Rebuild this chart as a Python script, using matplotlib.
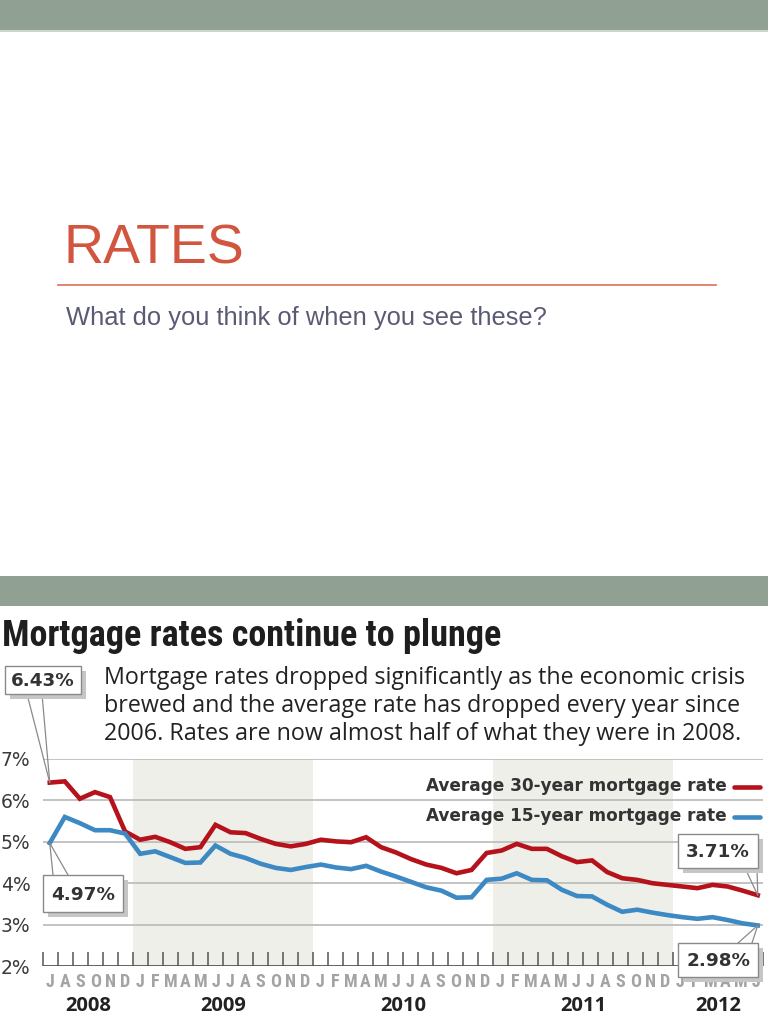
import matplotlib

matplotlib.use("Agg")
import matplotlib.pyplot as plt
import numpy as np
from matplotlib import font_manager
from matplotlib.patches import Rectangle

# monthly averages, Jul 2008 .. Jun 2012
RATE_30 = [6.43, 6.46, 6.04, 6.20, 6.08, 5.25, 5.05, 5.12, 4.99, 4.83, 4.87, 5.41,
           5.23, 5.21, 5.07, 4.95, 4.89, 4.95, 5.05, 5.01, 4.99, 5.11, 4.87, 4.74,
           4.58, 4.45, 4.37, 4.24, 4.32, 4.73, 4.79, 4.95, 4.83, 4.83, 4.65, 4.51,
           4.55, 4.27, 4.12, 4.08, 4.00, 3.96, 3.92, 3.88, 3.96, 3.92, 3.82, 3.71]
RATE_15 = [4.97, 5.60, 5.45, 5.28, 5.28, 5.20, 4.71, 4.77, 4.63, 4.49, 4.50, 4.91,
           4.71, 4.61, 4.47, 4.37, 4.32, 4.39, 4.45, 4.38, 4.34, 4.42, 4.28, 4.16,
           4.03, 3.90, 3.82, 3.65, 3.66, 4.08, 4.11, 4.24, 4.08, 4.07, 3.84, 3.69,
           3.68, 3.48, 3.31, 3.36, 3.29, 3.23, 3.18, 3.14, 3.18, 3.11, 3.03, 2.98]
MONTH_LETTERS = list("JASOND") + list("JFMAMJJASOND") * 3 + list("JFMAMJ")
YEARS = ["2008", "2009", "2010", "2011", "2012"]
YEAR_SPANS = [(0, 6), (6, 18), (18, 30), (30, 42), (42, 48)]
SHADED_YEARS = ["2009", "2011"]
Y_TICKS = [2, 3, 4, 5, 6, 7]
Y_LABELS = ["2%", "3%", "4%", "5%", "6%", "7%"]
BODY_LINES = ["Mortgage rates dropped significantly as the economic crisis",
              "brewed and the average rate has dropped every year since",
              "2006. Rates are now almost half of what they were in 2008."]

RED = "#b5121b"
BLUE = "#3d89c3"
SLIDE_GRAY = "#90a194"
ORANGE = "#d2553f"


def pick(*names):
    avail = {f.name for f in font_manager.fontManager.ttflist}
    for n in names:
        if n in avail:
            return n
    return "DejaVu Sans"


COND = pick("Roboto Condensed", "Liberation Sans Narrow", "DejaVu Sans")
SANS = pick("Open Sans", "Lato", "DejaVu Sans")
ARIAL = pick("Liberation Sans", "Arial", "DejaVu Sans")
WIDE = "DejaVu Sans"

fig = plt.figure(figsize=(7.68, 10.24), dpi=100)

# chart axes: pixel box x 43..763, y 759..966
ax = fig.add_axes([43 / 768, 58 / 1024, 720 / 768, 207 / 1024], zorder=2)
px = fig.add_axes([0, 0, 1, 1], zorder=5)
px.set_xlim(0, 768)
px.set_ylim(1024, 0)
px.axis("off")
px.patch.set_alpha(0)

# ---- slide part ----
px.add_patch(Rectangle((0, 0), 768, 30, color=SLIDE_GRAY, lw=0))
px.add_patch(Rectangle((0, 30), 768, 1.5, color="#cdd5cf", lw=0))
px.text(64, 263, "RATES", color=ORANGE, fontsize=40, family=ARIAL, va="baseline")
px.plot([58, 716], [285, 285], color="#e07b67", lw=1.3)
px.text(66, 325, "What do you think of when you see these?", color="#5a5b73",
        fontsize=18.4, family=ARIAL, va="baseline")
px.add_patch(Rectangle((0, 576), 768, 30, color=SLIDE_GRAY, lw=0))

# ---- graphic header ----
px.text(2, 646, "Mortgage rates continue to plunge", fontsize=26, weight="bold",
        family=COND, color="#1e1e1e", va="baseline")
for i, line in enumerate(BODY_LINES):
    px.text(104, 684 + 28 * i, line, fontsize=16.75, family=SANS, color="#222222",
            va="baseline")

# ---- chart ----
x = np.linspace(0.45, 47.65, len(RATE_30))
for yr, (a, b) in zip(YEARS, YEAR_SPANS):
    if yr in SHADED_YEARS:
        ax.axvspan(a, b, color="#efefea", lw=0, zorder=0)
for v in Y_TICKS[1:]:
    ax.axhline(v, color="#b9b9b9", lw=1.2, zorder=1)
ax.axhline(2, color="#555555", lw=1.3, zorder=1)

ax.plot(x, RATE_30, color=RED, lw=3.3, zorder=3, solid_joinstyle="miter")
ax.plot(x, RATE_15, color=BLUE, lw=3.3, zorder=3, solid_joinstyle="miter")

ax.set_xlim(0, 48)
ax.set_ylim(2, 7)
for s in ax.spines.values():
    s.set_visible(False)
ax.patch.set_alpha(0)

ax.set_yticks(Y_TICKS)
ax.set_yticklabels(Y_LABELS, family=WIDE, fontsize=13.5, color="#3a3a3a")
ax.tick_params(axis="y", length=0, pad=9)

ax.set_xticks(np.arange(0, 49))
ax.set_xticklabels([])
ax.tick_params(axis="x", which="major", direction="in", length=10, width=1.1,
               color="#555555")
ax.set_xticks(np.arange(len(MONTH_LETTERS)) + 0.5, minor=True)
ax.set_xticklabels(MONTH_LETTERS, minor=True, family=COND, weight="bold",
                   fontsize=13, color="#a3a3a3")
ax.tick_params(axis="x", which="minor", length=0, pad=5)

ytrans = ax.get_xaxis_transform()
for yr, (a, b) in zip(YEARS, YEAR_SPANS):
    ax.text((a + b) / 2, -0.195, yr, transform=ytrans, ha="center", va="center",
            family=SANS, weight="bold", fontsize=14.5, color="#222222")

# legend
px.text(727, 786, "Average 30-year mortgage rate", ha="right", va="center",
        fontsize=12.2, weight="bold", family=WIDE, color="#333333")
px.plot([734, 760], [787, 787], color=RED, lw=3.3, solid_capstyle="round")
px.text(727, 816, "Average 15-year mortgage rate", ha="right", va="center",
        fontsize=12.2, weight="bold", family=WIDE, color="#333333")
px.plot([734, 760], [817, 817], color=BLUE, lw=3.3, solid_capstyle="round")


def callout(box, label, point, feet):
    bx, by, bw, bh = box
    px.add_patch(Rectangle((bx + 5, by + 5), bw, bh, color="#c6c6c6", lw=0))
    px.add_patch(Rectangle((bx, by), bw, bh, facecolor="white", edgecolor="#8a8a8a", lw=1))
    px.text(bx + bw / 2, by + bh / 2 + 1, label, ha="center", va="center",
            fontsize=13.2, weight="bold", family=WIDE, color="#333333")
    for f in feet:
        ax.annotate("", xy=point, xycoords="data", xytext=f, textcoords=px.transData,
                    arrowprops=dict(arrowstyle="-", color="#8a8a8a", lw=0.9,
                                    shrinkA=0, shrinkB=0), zorder=6)


callout((5, 666, 76, 28), "6.43%", (x[0], RATE_30[0]), [(27, 694), (42, 694)])
callout((43, 875, 80, 37), "4.97%", (x[0], RATE_15[0]), [(53, 875), (68, 875)])
callout((678, 834, 80, 34), "3.71%", (x[-1], RATE_30[-1]), [(745, 868), (757, 868)])
callout((678, 943, 80, 34), "2.98%", (x[-1], RATE_15[-1]), [(738, 943), (752, 943)])

fig.savefig("out.png", dpi=100)
